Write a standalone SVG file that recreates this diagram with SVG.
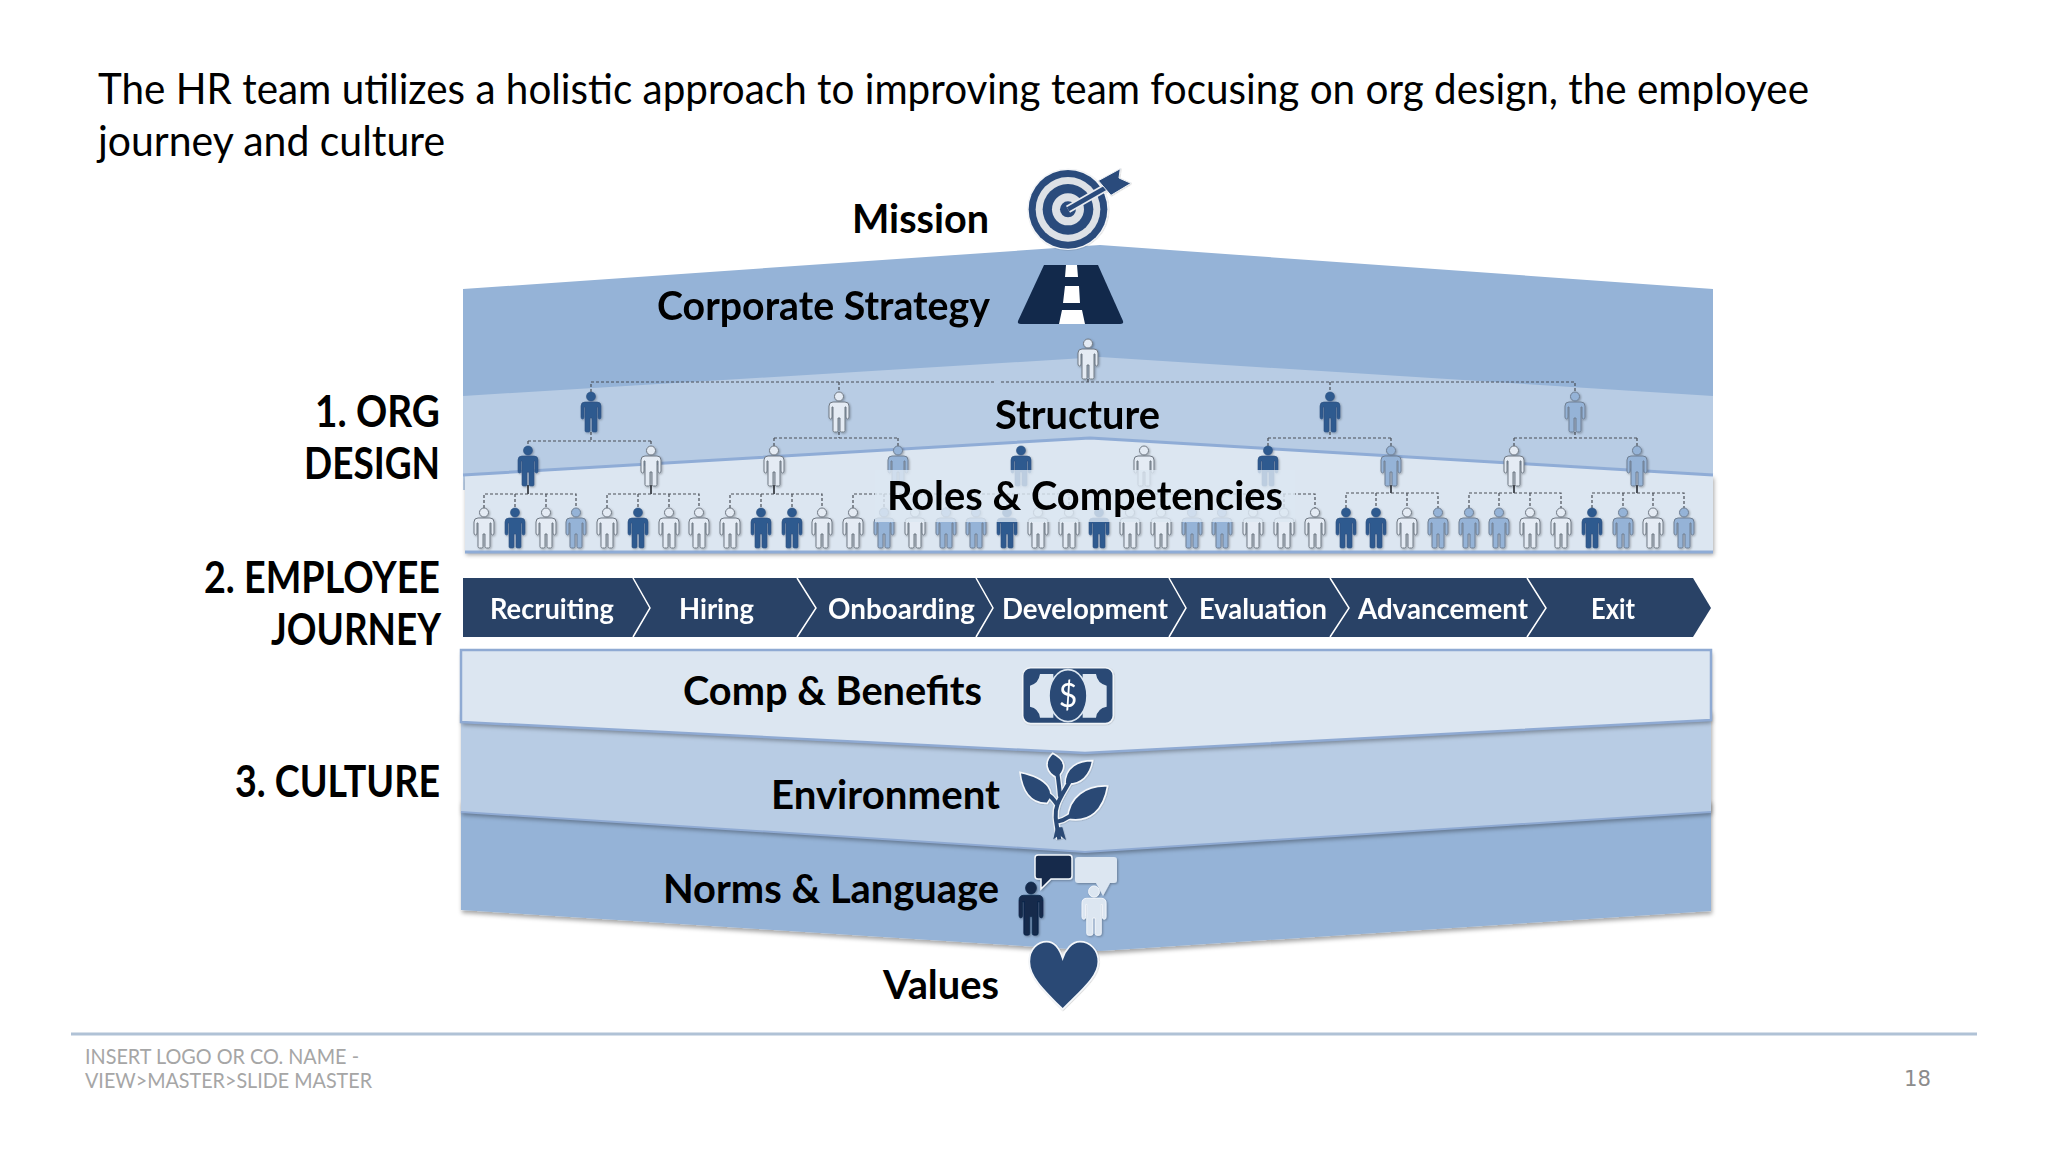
<svg xmlns="http://www.w3.org/2000/svg" xmlns:xlink="http://www.w3.org/1999/xlink" width="2048" height="1152" viewBox="0 0 2048 1152">
<style>
text{font-family:"Lato","Liberation Sans",sans-serif;fill:#000}
.b{font-weight:700;font-size:40px}
.lab{font-weight:700;font-size:43px}
.chev{font-weight:700;font-size:29px;fill:#fff}
.foot{font-size:21px;fill:#A6A6A6}
.dk{fill:#2F5A8F;stroke:#2A4F80;stroke-width:.6}
.lt{fill:#E4EBF4;stroke:#6F7883;stroke-width:1}
.md{fill:#95B3D7;stroke:#6F7F93;stroke-width:1}
.vk{fill:#12294B;stroke:#12294B;stroke-width:.6}
.wh{fill:#DCE6F1;stroke:#F4F7FB;stroke-width:.8}
.dash{fill:none;stroke:#4A4F57;stroke-width:1.2;stroke-dasharray:3 2}
.stem{fill:none;stroke:#4A4F57;stroke-width:2}
.icon{fill:#2A4A75;stroke:#F4F7FB;stroke-width:5}
</style>
<defs>
<filter id="sh" x="-5%" y="-10%" width="110%" height="125%"><feDropShadow dx="1" dy="3" stdDeviation="2" flood-color="#000" flood-opacity=".35"/></filter>
<filter id="ps" x="-30%" y="-20%" width="160%" height="140%"><feDropShadow dx="1" dy="1" stdDeviation="1.2" flood-color="#000" flood-opacity=".3"/></filter>
<g id="p"><circle cx="0" cy="4.5" r="4.5"/><path d="M-6 10H6Q10 10 10 14V25Q10 27 8.5 27Q7 27 7 25V15H6V38.5Q6 40 4.5 40H2.500Q1 40 1 38.5V26H-1V38.500Q-1 40-2.500 40H-4.500Q-6 40-6 38.500V15H-7V25Q-7 27-8.500 27Q-10 27-10 25V14Q-10 10-6 10Z"/></g>
</defs>
<rect width="2048" height="1152" fill="#fff"/>

<g id="title">
<text x="98" y="104" font-size="42" textLength="1711" lengthAdjust="spacingAndGlyphs">The HR team utilizes a holistic approach to improving team focusing on org design, the employee</text>
<text x="98" y="156" font-size="42" textLength="347" lengthAdjust="spacingAndGlyphs">journey and culture</text>
</g>

<g id="labels">
<text class="lab" x="315" y="427" textLength="125" lengthAdjust="spacingAndGlyphs">1. ORG</text>
<text class="lab" x="304" y="479" textLength="136" lengthAdjust="spacingAndGlyphs">DESIGN</text>
<text class="lab" x="204" y="593" textLength="236" lengthAdjust="spacingAndGlyphs">2. EMPLOYEE</text>
<text class="lab" x="271" y="645" textLength="170" lengthAdjust="spacingAndGlyphs">JOURNEY</text>
<text class="lab" x="235" y="797" textLength="205" lengthAdjust="spacingAndGlyphs">3. CULTURE</text>
</g>

<g id="corporate-strategy"><polygon points="463,289 1100,245 1713,289 1713,420 463,420" fill="#95B3D7"/></g>
<g id="structure"><polygon points="463,396 1100,357 1713,396 1713,490 463,490" fill="#B8CCE4"/></g>
<g id="roles">
<polygon points="465,475 1090,438 1713,475 1713,552 465,552" fill="#DCE6F1" filter="url(#sh)"/>
<path d="M463 475L1090 438L1713 475M465 552H1713" fill="none" stroke="#8FACD6" stroke-width="3"/>
</g>

<g id="connectors">
<path class="dash" d="M591 392V382H996M1001 382H1575V392M839 382V392M1330 382V392M1088 379V382"/>
<path class="dash" d="M528 441H651M591 432V441M528 441V446M651 441V446"/>
<path class="dash" d="M774 438H898M839 432V438M774 438V446M898 438V446"/>
<path class="dash" d="M1268 438H1391M1330 432V438M1268 438V446M1391 438V446"/>
<path class="dash" d="M1514 438H1637M1575 432V438M1514 438V446M1637 438V446"/>
<path class="dash" d="M484 508V494H576V508M515 494V508M546 494V508"/>
<path class="dash" d="M607 508V494H699V508M638 494V508M669 494V508"/>
<path class="dash" d="M730 508V494H822V508M761 494V508M792 494V508"/>
<path class="dash" d="M853 508V494H946V508M884 494V508M915 494V508"/>
<path class="dash" d="M976 508V494H1069V508M1007 494V508M1038 494V508"/>
<path class="dash" d="M1099 508V494H1192V508M1130 494V508M1161 494V508"/>
<path class="dash" d="M1222 508V494H1315V508M1253 494V508M1284 494V508"/>
<path class="dash" d="M1346 508V493H1438V508M1376 493V508M1407 493V508"/>
<path class="dash" d="M1469 508V493H1561V508M1499 493V508M1530 493V508"/>
<path class="dash" d="M1592 508V493H1684V508M1623 493V508M1653 493V508"/>
<path class="stem" d="M528 485V494M651 485V494M774 485V494M1391 485V493M1514 485V493M1637 485V493"/>
</g>

<g id="people" filter="url(#ps)">
<use id="p0" href="#p" class="lt" transform="translate(1088,339)"/>
<use id="p1-1" href="#p" class="dk" transform="translate(591,392)"/>
<use id="p1-2" href="#p" class="lt" transform="translate(839,392)"/>
<use id="p1-3" href="#p" class="dk" transform="translate(1330,392)"/>
<use id="p1-4" href="#p" class="md" transform="translate(1575,392)"/>
<use id="p2-1" href="#p" class="dk" transform="translate(528,446)"/>
<use id="p2-2" href="#p" class="lt" transform="translate(651,446)"/>
<use id="p2-3" href="#p" class="lt" transform="translate(774,446)"/>
<use id="p2-4" href="#p" class="md" transform="translate(898,446)"/>
<use id="p2-5" href="#p" class="dk" transform="translate(1021,446)"/>
<use id="p2-6" href="#p" class="lt" transform="translate(1144,446)"/>
<use id="p2-7" href="#p" class="dk" transform="translate(1268,446)"/>
<use id="p2-8" href="#p" class="md" transform="translate(1391,446)"/>
<use id="p2-9" href="#p" class="lt" transform="translate(1514,446)"/>
<use id="p2-10" href="#p" class="md" transform="translate(1637,446)"/>
<use id="p3-0" href="#p" class="lt" transform="translate(484,508)"/>
<use id="p3-1" href="#p" class="dk" transform="translate(515,508)"/>
<use id="p3-2" href="#p" class="lt" transform="translate(546,508)"/>
<use id="p3-3" href="#p" class="md" transform="translate(576,508)"/>
<use id="p3-4" href="#p" class="lt" transform="translate(607,508)"/>
<use id="p3-5" href="#p" class="dk" transform="translate(638,508)"/>
<use id="p3-6" href="#p" class="lt" transform="translate(669,508)"/>
<use id="p3-7" href="#p" class="lt" transform="translate(699,508)"/>
<use id="p3-8" href="#p" class="lt" transform="translate(730,508)"/>
<use id="p3-9" href="#p" class="dk" transform="translate(761,508)"/>
<use id="p3-10" href="#p" class="dk" transform="translate(792,508)"/>
<use id="p3-11" href="#p" class="lt" transform="translate(822,508)"/>
<use id="p3-12" href="#p" class="lt" transform="translate(853,508)"/>
<use id="p3-13" href="#p" class="md" transform="translate(884,508)"/>
<use id="p3-14" href="#p" class="lt" transform="translate(915,508)"/>
<use id="p3-15" href="#p" class="md" transform="translate(946,508)"/>
<use id="p3-16" href="#p" class="md" transform="translate(976,508)"/>
<use id="p3-17" href="#p" class="dk" transform="translate(1007,508)"/>
<use id="p3-18" href="#p" class="lt" transform="translate(1038,508)"/>
<use id="p3-19" href="#p" class="lt" transform="translate(1069,508)"/>
<use id="p3-20" href="#p" class="dk" transform="translate(1099,508)"/>
<use id="p3-21" href="#p" class="lt" transform="translate(1130,508)"/>
<use id="p3-22" href="#p" class="lt" transform="translate(1161,508)"/>
<use id="p3-23" href="#p" class="md" transform="translate(1192,508)"/>
<use id="p3-24" href="#p" class="md" transform="translate(1222,508)"/>
<use id="p3-25" href="#p" class="lt" transform="translate(1253,508)"/>
<use id="p3-26" href="#p" class="lt" transform="translate(1284,508)"/>
<use id="p3-27" href="#p" class="lt" transform="translate(1315,508)"/>
<use id="p3-28" href="#p" class="dk" transform="translate(1346,508)"/>
<use id="p3-29" href="#p" class="dk" transform="translate(1376,508)"/>
<use id="p3-30" href="#p" class="lt" transform="translate(1407,508)"/>
<use id="p3-31" href="#p" class="md" transform="translate(1438,508)"/>
<use id="p3-32" href="#p" class="md" transform="translate(1469,508)"/>
<use id="p3-33" href="#p" class="md" transform="translate(1499,508)"/>
<use id="p3-34" href="#p" class="lt" transform="translate(1530,508)"/>
<use id="p3-35" href="#p" class="lt" transform="translate(1561,508)"/>
<use id="p3-36" href="#p" class="dk" transform="translate(1592,508)"/>
<use id="p3-37" href="#p" class="md" transform="translate(1623,508)"/>
<use id="p3-38" href="#p" class="lt" transform="translate(1653,508)"/>
<use id="p3-39" href="#p" class="md" transform="translate(1684,508)"/>
</g>
<rect x="875" y="470" width="420" height="52" fill="#DCE6F1" opacity=".82"/>

<g id="mission-label"><text class="b" x="852" y="233" textLength="137" lengthAdjust="spacingAndGlyphs">Mission</text></g>
<g id="target" transform="translate(979,150) scale(.3333)" filter="url(#ps)">
<circle cx="267" cy="178" r="122" fill="#F4F6F9"/>
<circle cx="267" cy="178" r="118" fill="#2B4C7C"/>
<circle cx="267" cy="178" r="97" fill="#DDE1E6"/>
<circle cx="267" cy="178" r="76" fill="#2B4C7C"/>
<circle cx="267" cy="178" r="48" fill="#DDE1E6"/>
<circle cx="267" cy="178" r="24" fill="#2B4C7C"/>
<path d="M267 178L385 110" stroke="#E8EBEF" stroke-width="24" fill="none"/>
<path d="M267 178L385 110" stroke="#2B4C7C" stroke-width="14" fill="none"/>
<path d="M358 92L424 56L420 84L456 100L396 136Z" fill="#2B4C7C" stroke="#EEF1F5" stroke-width="3"/>
</g>

<g id="corporate-strategy-label"><text class="b" x="657" y="320" textLength="333" lengthAdjust="spacingAndGlyphs">Corporate Strategy</text></g>
<g id="road">
<path d="M1044 265H1098L1123 321Q1124 324 1120 324H1021Q1017 324 1018 321Z" fill="#12294B"/>
<path d="M1066 265H1077L1078 277H1065ZM1065 286H1079L1080 303H1063ZM1062 310H1082L1085 324H1059Z" fill="#fff"/>
</g>
<g id="structure-label"><text class="b" x="995" y="429" textLength="165" lengthAdjust="spacingAndGlyphs">Structure</text></g>
<g id="roles-label"><text class="b" x="887" y="510" textLength="396" lengthAdjust="spacingAndGlyphs">Roles &amp; Competencies</text></g>

<g id="journey">
<polygon points="463,578 1693,578 1711,608 1693,637 463,637" fill="#294266"/>
<path d="M633 578L650 608L633 637M797 578L816 608L797 637M976 578L993 608L976 637M1169 578L1186 608L1169 637M1330 578L1349 608L1330 637M1527 578L1546 608L1527 637" fill="none" stroke="#fff" stroke-width="1.5"/>
<text class="chev" x="490" y="619" textLength="124" lengthAdjust="spacingAndGlyphs">Recruiting</text>
<text class="chev" x="679" y="619" textLength="75" lengthAdjust="spacingAndGlyphs">Hiring</text>
<text class="chev" x="828" y="619" textLength="147" lengthAdjust="spacingAndGlyphs">Onboarding</text>
<text class="chev" x="1002" y="619" textLength="166" lengthAdjust="spacingAndGlyphs">Development</text>
<text class="chev" x="1199" y="619" textLength="128" lengthAdjust="spacingAndGlyphs">Evaluation</text>
<text class="chev" x="1358" y="619" textLength="170" lengthAdjust="spacingAndGlyphs">Advancement</text>
<text class="chev" x="1591" y="619" textLength="44" lengthAdjust="spacingAndGlyphs">Exit</text>
</g>

<g id="norms"><polygon points="461,800 1085,840 1711,800 1711,911 1100,951 461,910" fill="#95B3D7" filter="url(#sh)"/></g>
<g id="environment">
<polygon points="461,710 1085,740 1711,710 1711,812 1085,852 461,812" fill="#B8CCE4" filter="url(#sh)"/>
<path d="M461 812L1085 852L1711 812" fill="none" stroke="#8FAAD3" stroke-width="2"/>
</g>
<g id="comp">
<polygon points="461,650 1711,650 1711,720 1085,753 461,722" fill="#DCE6F1" filter="url(#sh)"/>
<path d="M461 722V650H1711V720L1085 753Z" fill="none" stroke="#8FAAD3" stroke-width="2.500"/>
</g>

<g id="comp-label"><text class="b" x="683" y="705" textLength="299" lengthAdjust="spacingAndGlyphs">Comp &amp; Benefits</text></g>
<g id="money" transform="translate(1010,655) scale(.3333)" filter="url(#ps)">
<rect x="38" y="38" width="272" height="168" rx="24" fill="#2A4A75" stroke="#F0F4F8" stroke-width="5"/>
<path d="M90 57H258Q262 85 290 92V155Q262 160 258 188H90Q86 160 60 155V92Q86 85 90 57Z" fill="#DCE6F1"/>
<rect x="130" y="50" width="88" height="145" fill="#2A4A75"/>
<ellipse cx="174" cy="122" rx="57" ry="78" fill="#2A4A75" stroke="#DCE6F1" stroke-width="5"/>
<text x="174" y="156" text-anchor="middle" font-size="96" style="fill:#fff">$</text>
</g>

<g id="environment-label"><text class="b" x="771" y="809" textLength="229" lengthAdjust="spacingAndGlyphs">Environment</text></g>
<g id="plant" transform="translate(1000,740) scale(.3333)" filter="url(#ps)">
<path d="M178 298C172 260 160 225 172 195C180 170 195 150 215 115M172 195C160 175 150 165 130 155M180 170C178 140 175 120 172 100M172 245C195 240 220 225 240 198" fill="none" stroke="#EEF2F7" stroke-width="20"/>
<path class="icon" d="M158 40C130 65 138 100 172 114C202 85 197 60 158 40Z"/>
<path class="icon" d="M278 62C235 62 195 80 195 132C245 137 271 105 278 62Z"/>
<path class="icon" d="M60 97C66 150 90 192 142 190C167 160 150 115 60 97Z"/>
<path class="icon" d="M323 138C260 135 205 170 203 237C270 250 311 210 323 138Z"/>
<path d="M178 298C172 260 160 225 172 195C180 170 195 150 215 115M172 195C160 175 150 165 130 155M180 170C178 140 175 120 172 100M172 245C195 240 220 225 240 198" fill="none" stroke="#2A4A75" stroke-width="12"/>
<path d="M160 298L178 285L198 300L187 262L168 262Z" fill="#2A4A75"/>
</g>

<g id="norms-label"><text class="b" x="663" y="903" textLength="336" lengthAdjust="spacingAndGlyphs">Norms &amp; Language</text></g>
<g id="speakers" filter="url(#ps)">
<path d="M1038 855H1069Q1072 855 1072 858V876Q1072 879 1069 879H1051L1041 889V879H1038Q1035 879 1035 876V858Q1035 855 1038 855Z" fill="#12294B" stroke="#F4F7FB" stroke-width="1.500"/>
<path d="M1078 857H1114Q1117 857 1117 860V880Q1117 883 1114 883H1110L1103 896L1096 883H1078Q1075 883 1075 880V860Q1075 857 1078 857Z" fill="#DCE6F1"/>
<use href="#p" class="vk" transform="translate(1031,882) scale(1.2,1.33)"/>
<use href="#p" class="wh" transform="translate(1094,886) scale(1.2,1.23)"/>
</g>

<g id="values-label"><text class="b" x="883" y="999" textLength="116" lengthAdjust="spacingAndGlyphs">Values</text></g>
<g id="heart" transform="translate(1000,740) scale(.3333)" filter="url(#ps)">
<path d="M188 808C130 750 88 710 88 665C88 625 115 605 140 605C165 605 180 630 188 655C196 630 215 605 240 605C270 605 295 630 295 665C295 710 245 750 188 808Z" fill="#2A4A75" stroke="#F4F7FB" stroke-width="5"/>
</g>

<g id="footer">
<line x1="71" y1="1034" x2="1977" y2="1034" stroke="#B0C2D6" stroke-width="3"/>
<text class="foot" x="85" y="1064" textLength="274" lengthAdjust="spacingAndGlyphs">INSERT LOGO OR CO. NAME -</text>
<text class="foot" x="85" y="1088" textLength="287" lengthAdjust="spacingAndGlyphs">VIEW&gt;MASTER&gt;SLIDE MASTER</text>
<text x="1904" y="1086" font-size="22" textLength="27" lengthAdjust="spacingAndGlyphs" style="font-family:'DejaVu Sans',sans-serif;fill:#8C8C8C">18</text>
</g>
</svg>
